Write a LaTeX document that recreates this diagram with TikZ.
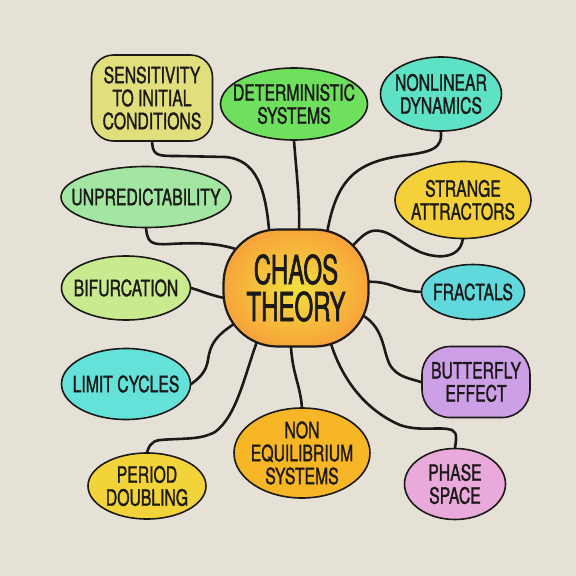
\documentclass[tikz,border=0pt]{standalone}
\usepackage{fontspec}
\usetikzlibrary{shapes.geometric}
\newfontfamily\handfont[FakeStretch=0.7,FakeBold=1.2]{TeX Gyre Heros}
\newfontfamily\titlefont[FakeStretch=0.6,FakeBold=1.5]{TeX Gyre Heros}
\definecolor{ink}{HTML}{1C1A18}
\definecolor{paper}{HTML}{E6E1D7}
\definecolor{csens}{HTML}{E0DF7C}
\definecolor{cdet}{HTML}{6FE05E}
\definecolor{cnonlin}{HTML}{5EE2C6}
\definecolor{cunpred}{HTML}{A2E6A2}
\definecolor{cstrange}{HTML}{F4D03A}
\definecolor{cbif}{HTML}{C9EA8E}
\definecolor{cfract}{HTML}{60D8DC}
\definecolor{climit}{HTML}{64E2DA}
\definecolor{cbutter}{HTML}{CC9FE6}
\definecolor{cnoneq}{HTML}{F6B626}
\definecolor{cperiod}{HTML}{F2D43A}
\definecolor{cphase}{HTML}{E9A9DA}
\definecolor{ctin}{HTML}{F2E03E}
\definecolor{ctout}{HTML}{F7A53A}
\pgfdeclarelayer{paperlayer}
\pgfdeclarelayer{bg}
\pgfdeclarelayer{blobs}
\pgfsetlayers{paperlayer,bg,blobs,main}
\begin{document}
\begin{tikzpicture}[x=1pt,y=-1pt,
  topic/.style={draw=ink, line width=1.6pt, align=center, text=ink,
    font={\fontsize{22.5}{23}\handfont}, inner sep=0pt},
  oval/.style={topic, ellipse, inner xsep=-16pt, inner ysep=-6pt},
  blob/.style={topic, rectangle, rounded corners=#1},
  link/.style={draw=ink, line width=2.6pt, line cap=round,
    shorten <=-4pt, shorten >=-4pt}]
\begin{pgfonlayer}{paperlayer}
  \fill[paper] (0,0) rectangle (576,576);
\end{pgfonlayer}
\useasboundingbox (0,0) rectangle (576,576);

% central topic: text node with elliptic anchors, rounded blob drawn beneath
\node[ellipse, minimum width=145pt, minimum height=117pt, inner sep=-20pt,
  align=center, text=ink, font={\fontsize{40}{37}\titlefont}] (center) at (296,288) {CHAOS\\THEORY};
\begin{pgfonlayer}{blobs}
  \draw[draw=ink, line width=2.2pt, inner color=ctin, outer color=ctout, rounded corners=54pt]
    (223.5,229.5) rectangle (368.5,346.5);
\end{pgfonlayer}

% topics
\node[blob=22pt, fill=csens, minimum width=121pt, minimum height=86pt] (sens) at (152,98) {SENSITIVITY\\TO INITIAL\\CONDITIONS};
\node[oval, fill=cdet, minimum width=147pt, minimum height=72pt] (det) at (294,104) {DETERMINISTIC\\SYSTEMS};
\node[oval, fill=cnonlin, minimum width=121pt, minimum height=74pt] (nonlin) at (441,94) {NONLINEAR\\DYNAMICS};
\node[oval, fill=cunpred, minimum width=170pt, minimum height=61pt] (unpred) at (146,197) {UNPREDICTABILITY};
\node[oval, fill=cstrange, minimum width=136pt, minimum height=77pt] (strange) at (463,200) {STRANGE\\ATTRACTORS};
\node[oval, fill=cbif, minimum width=129pt, minimum height=64pt] (bif) at (126,288) {BIFURCATION};
\node[oval, fill=cfract, minimum width=103pt, minimum height=55pt] (fract) at (473,292) {FRACTALS};
\node[oval, fill=climit, minimum width=129pt, minimum height=71pt] (limit) at (126,384) {LIMIT CYCLES};
\node[blob=28pt, fill=cbutter, minimum width=108pt, minimum height=71pt] (butter) at (476,382) {BUTTERFLY\\EFFECT};
\node[oval, fill=cnoneq, minimum width=136pt, minimum height=90pt] (noneq) at (302,453) {NON\\EQUILIBRIUM\\SYSTEMS};
\node[oval, fill=cperiod, minimum width=118pt, minimum height=66pt] (period) at (147,486) {PERIOD\\DOUBLING};
\node[oval, fill=cphase, minimum width=101pt, minimum height=71pt] (phase) at (455,484) {PHASE\\SPACE};

% connectors
\begin{pgfonlayer}{bg}
\draw[link] (sens.south) .. controls (152,156) and (156,156) .. (178,156)
  -- (226,157) .. controls (255,160) and (266,185) .. (center.116);
\draw[link] (det.south) .. controls (297,180) and (300,200) .. (center.87);
\draw[link] (nonlin.south) .. controls (445,150) and (430,152) .. (400,156)
  .. controls (355,163) and (335,180) .. (center.60);
\draw[link] (strange.south) .. controls (463,258) and (440,260) .. (420,252)
  .. controls (398,242) and (388,228) .. (372,231)
  .. controls (364,233) and (358,240) .. (center.36);
\draw[link] (unpred.south) .. controls (147,243) and (150,245) .. (170,244)
  .. controls (205,242) and (222,244) .. (center.146);
\draw[link] (bif.east) .. controls (205,292) and (212,296) .. (center.188);
\draw[link] (center.5) .. controls (392,280) and (396,292) .. (fract.west);
\draw[link] (center.-22) .. controls (385,325) and (382,350) .. (390,365)
  .. controls (398,378) and (410,378) .. (butter.west);
\draw[link] (center.-57) .. controls (340,378) and (365,410) .. (400,425)
  .. controls (420,432) and (440,426) .. (452,430)
  .. controls (458,433) and (456,440) .. (phase.north);
\draw[link] (center.-95) .. controls (292,375) and (301,385) .. (noneq.north);
\draw[link] (center.-127) .. controls (245,372) and (238,415) .. (215,432)
  .. controls (200,440) and (185,438) .. (160,440)
  .. controls (151,441) and (148,447) .. (period.north);
\draw[link] (center.-150) .. controls (215,335) and (210,345) .. (208,360)
  .. controls (206,372) and (200,378) .. (limit.east);
\end{pgfonlayer}
\end{tikzpicture}
\end{document}
